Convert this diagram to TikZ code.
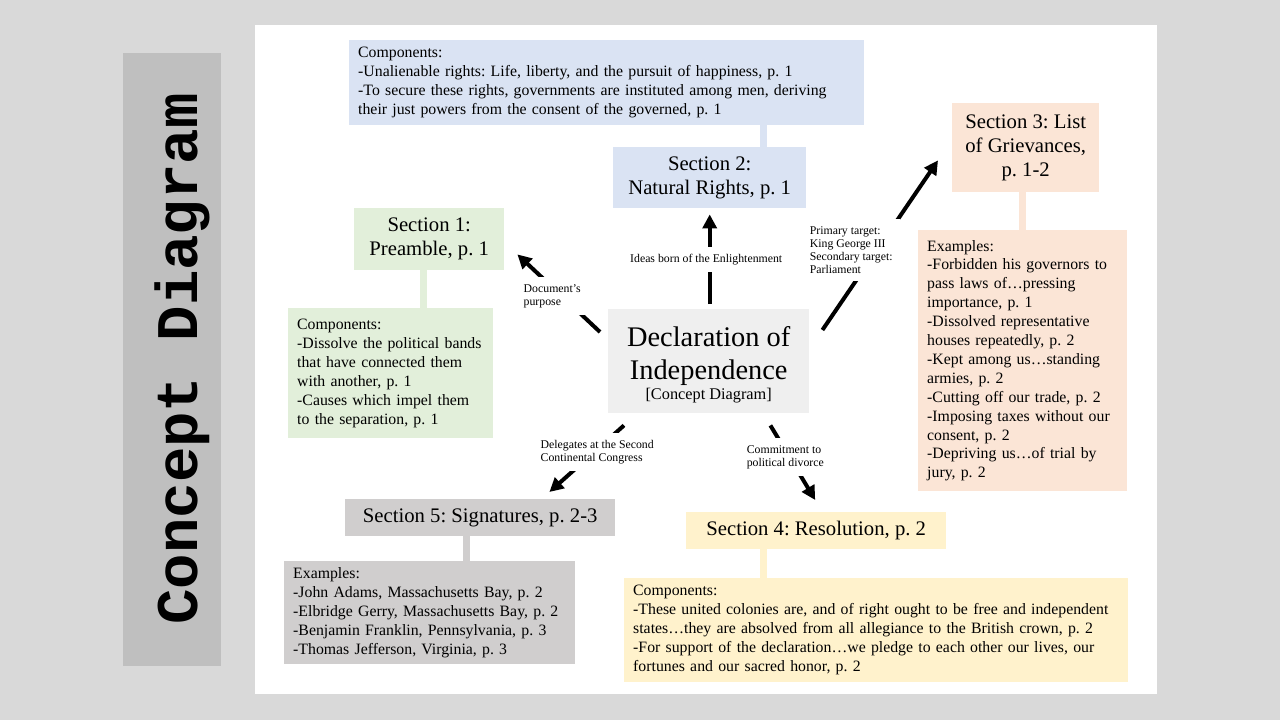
\documentclass[tikz,border=0pt]{standalone}
\usepackage{fontspec}
\setmainfont{Liberation Serif}
\newfontfamily\titlemono{Liberation Mono}
\usetikzlibrary{arrows.meta}
\definecolor{pagegray}{HTML}{D9D9D9}
\definecolor{bargray}{HTML}{BFBFBF}
\definecolor{rightsblue}{HTML}{DAE3F3}
\definecolor{preamblegreen}{HTML}{E2EFDA}
\definecolor{grievpeach}{HTML}{FBE5D6}
\definecolor{resolveyellow}{HTML}{FFF2CC}
\definecolor{signgray}{HTML}{D0CECE}
\definecolor{centergray}{HTML}{EFEFEF}
\frenchspacing

\begin{document}
\begin{tikzpicture}[x=1pt,y=-1pt,
  sect/.style={anchor=north west,align=center,inner sep=0pt,font=\fontsize{20.7}{24}\selectfont},
  info/.style={anchor=north west,align=left,inner xsep=9pt,inner ysep=0pt,font=\fontsize{15.8}{18.9}\selectfont},
  stub/.style={line width=7pt},
  arr/.style={line width=4pt,-{Triangle[length=14pt,width=14pt]}},
  lbl/.style={fill=white,align=left,inner sep=7pt,font=\fontsize{11.8}{13.2}\selectfont}]
% page and panels
\fill[pagegray] (0,0) rectangle (1280,720);
\fill[white] (255,25) rectangle (1157,694);
\fill[bargray] (123,53) rectangle (221,666);
\node[rotate=90,font=\titlemono\bfseries\fontsize{59}{62}\selectfont] (title) at (182,359) {Concept Diagram};

% center
\node[anchor=north west,minimum width=201,minimum height=104,inner sep=0pt,fill=centergray,align=center,
  font=\fontsize{28.4}{32.5}\selectfont] (center) at (608,309)
  {\rule{0pt}{27.5pt}Declaration of\\Independence\\[-12pt]{\fontsize{16.3}{20}\selectfont [Concept Diagram]}};

% section 2
\node[info,fill=rightsblue,text width=497,minimum height=85] (rights) at (349,40)
  {Components:\\-Unalienable rights: Life, liberty, and the pursuit of happiness, p. 1\\
   -To secure these rights, governments are instituted among men, deriving\\
   their just powers from the consent of the governed, p. 1};
\node[sect,fill=rightsblue,minimum width=193,minimum height=61] (sec2) at (613,147) {Section 2:\\Natural Rights, p. 1};
\draw[stub,rightsblue] ([xshift=53.5]sec2.north) -- ([xshift=53.5]sec2.north |- rights.south);

% section 3
\node[sect,fill=grievpeach,minimum width=147,minimum height=89] (sec3) at (952,103) {Section 3: List\\of Grievances,\\p. 1-2};
\node[info,fill=grievpeach,text width=191,minimum height=261] (griev) at (918,230)
  {Examples:\\-Forbidden his governors to\\pass laws of\ldots pressing\\importance, p. 1\\
   -Dissolved representative\\houses repeatedly, p. 2\\-Kept among us\ldots standing\\armies, p. 2\\
   -Cutting off our trade, p. 2\\-Imposing taxes without our\\consent, p. 2\\
   -Depriving us\ldots of trial by\\jury, p. 2};
\draw[stub,grievpeach] ([xshift=-3.5]sec3.south) -- ([xshift=-3.5]sec3.south |- griev.north);

% section 1
\node[sect,fill=preamblegreen,minimum width=150,minimum height=62] (sec1) at (354,208) {Section 1:\\Preamble, p. 1};
\node[info,fill=preamblegreen,text width=187,minimum height=130] (pre) at (288,308)
  {Components:\\-Dissolve the political bands\\that have connected them\\with another, p. 1\\
   -Causes which impel them\\to the separation, p. 1};
\draw[stub,preamblegreen] ([xshift=-6]sec1.south) -- ([xshift=-6]sec1.south |- pre.north);

% section 5
\node[sect,fill=signgray,minimum width=270,minimum height=37] (sec5) at (345,499) {Section 5: Signatures, p. 2-3};
\node[info,fill=signgray,text width=273,minimum height=103] (signers) at (284,561)
  {Examples:\\-John Adams, Massachusetts Bay, p. 2\\-Elbridge Gerry, Massachusetts Bay, p. 2\\
   -Benjamin Franklin, Pennsylvania, p. 3\\-Thomas Jefferson, Virginia, p. 3};
\draw[stub,signgray] ([xshift=-14]sec5.south) -- ([xshift=-14]sec5.south |- signers.north);

% section 4
\node[sect,fill=resolveyellow,minimum width=260,minimum height=37] (sec4) at (686,512) {Section 4: Resolution, p. 2};
\node[info,fill=resolveyellow,text width=486,minimum height=104] (resolve) at (624,578)
  {Components:\\-These united colonies are, and of right ought to be free and independent\\
   states\ldots they are absolved from all allegiance to the British crown, p. 2\\
   -For support of the declaration\ldots we pledge to each other our lives, our\\
   fortunes and our sacred honor, p. 2};
\draw[stub,resolveyellow] ([xshift=-53]sec4.south) -- ([xshift=-53]sec4.south |- resolve.north);

% arrows out of the center
\draw[arr] ([shift={(1,-5)}]center.north) -- node[lbl,xshift=-3.5]{Ideas born of the Enlightenment} ([shift={(0,6)}]sec2.south);
\draw[arr] ([shift={(-8,23)}]center.north west) -- node[lbl,xshift=-6.5,yshift=-3]{Document's\\purpose} ([shift={(13,-16)}]sec1.south east);
\draw[arr] ([shift={(13,21)}]center.north east) -- node[lbl,xshift=-29,yshift=-5]{Primary target:\\King George III\\Secondary target:\\Parliament} ([shift={(-14,-32)}]sec3.south west);
\draw[arr] ([shift={(16,12)}]center.south west) -- node[lbl,xshift=10.5,yshift=6.5]{Delegates at the Second\\Continental Congress} ([shift={(-66,-7)}]sec5.north east);
\draw[arr] ([shift={(-39,12)}]center.south east) -- node[lbl,xshift=-7.5,yshift=5.5]{Commitment to\\political divorce} ([shift={(-1,-12)}]sec4.north);
\end{tikzpicture}
\end{document}
